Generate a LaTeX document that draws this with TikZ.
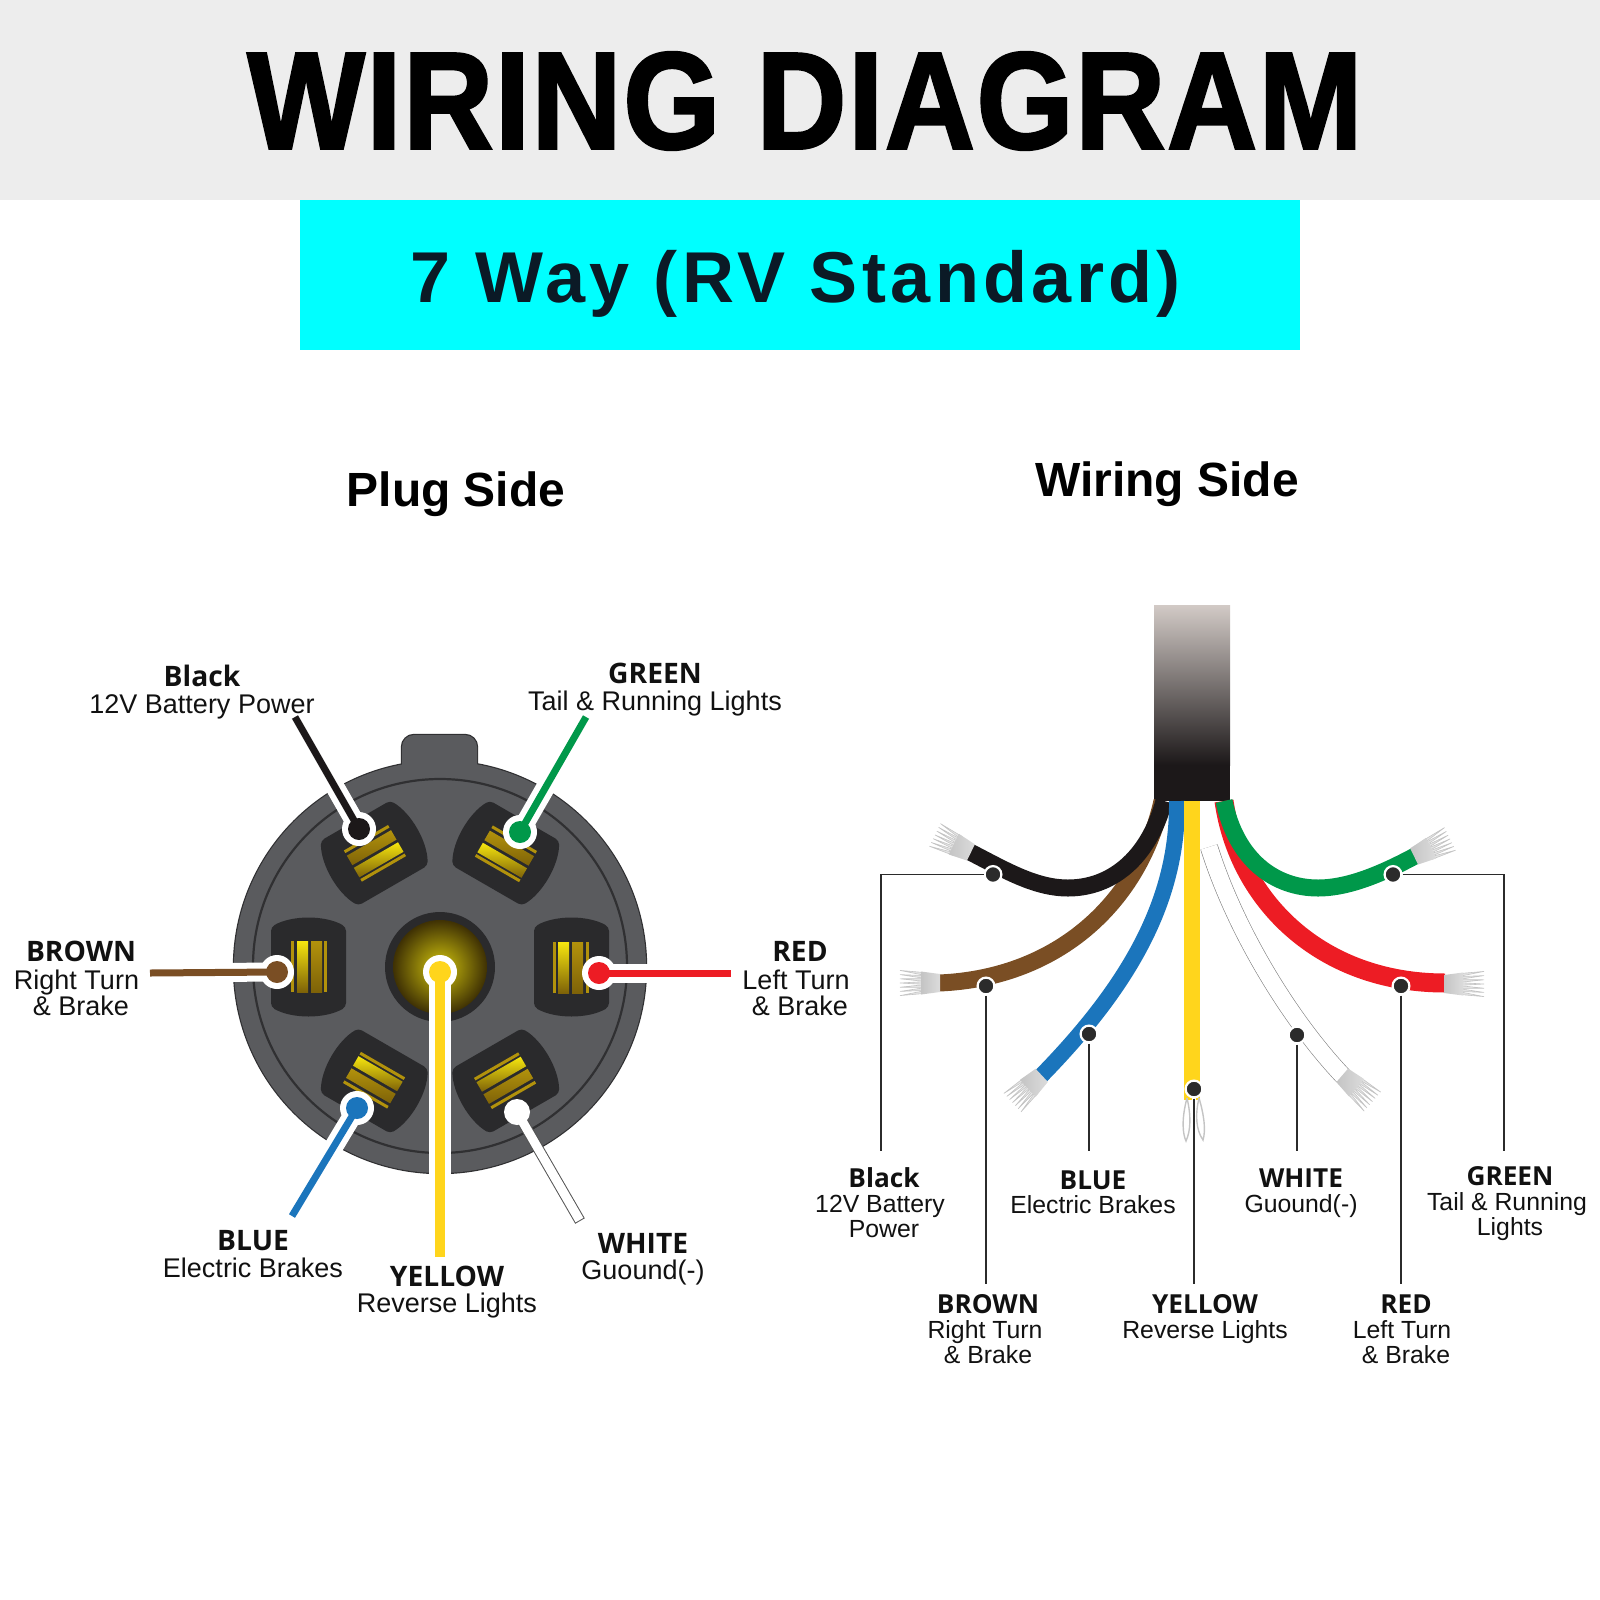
\documentclass[tikz,border=0pt]{standalone}
\usepackage{fontspec}
\setmainfont{Liberation Sans}
\newfontfamily\headfont{Open Sans}
\newfontfamily\heavyfont[LetterSpace=1.5,BoldFeatures={FakeBold=2,FakeStretch=0.9}]{Liberation Sans}
\newfontfamily\bannerfont[LetterSpace=6.1]{Liberation Sans}

\definecolor{headerGray}{HTML}{EDEDED}
\definecolor{bannerCyan}{HTML}{00FFFF}
\definecolor{bannerInk}{HTML}{0B1A26}
\definecolor{labelInk}{HTML}{111111}
\definecolor{plugBody}{HTML}{5A5B5E}
\definecolor{plugEdge}{HTML}{303032}
\definecolor{socketDark}{HTML}{2A2A2C}
\definecolor{brassHi}{HTML}{F6E60F}
\definecolor{brassMid}{HTML}{B2920C}
\definecolor{brassLo}{HTML}{7E6208}
\definecolor{wireBlack}{HTML}{1C1819}
\definecolor{wireGreen}{HTML}{00984A}
\definecolor{wireBrown}{HTML}{7A4E24}
\definecolor{wireRed}{HTML}{ED1C24}
\definecolor{wireYellow}{HTML}{FFD51C}
\definecolor{wireBlue}{HTML}{1B75BC}
\definecolor{strandGray}{HTML}{C4C4C4}
\definecolor{leadInk}{HTML}{2B2B2B}
\definecolor{cableTop}{HTML}{D2CAC6}

\tikzset{
  caption/.style={inner sep=0pt, text depth=0pt, text height=17pt, font=\bfseries\fontsize{24}{24}\selectfont, text=black},
  lbl/.style={inner sep=0pt, text depth=0pt, text=labelInk},
  plughead/.style={lbl, text height=10.2pt, font=\headfont\bfseries\fontsize{14.1}{16}\selectfont},
  plugtext/.style={lbl, text height=9.6pt, font=\fontsize{13.5}{16}\selectfont},
  wirehead/.style={lbl, text height=9.5pt, font=\headfont\bfseries\fontsize{13.1}{16}\selectfont},
  wiretext/.style={lbl, text height=8.9pt, font=\fontsize{12.4}{16}\selectfont},
  pinring/.style={circle, fill=white, minimum size=17pt, inner sep=0pt},
  pindot/.style={circle, fill=#1, minimum size=11pt, inner sep=0pt},
  plugwire/.style={draw=white, line width=3pt, double=#1, double distance=3.5pt},
  cord/.style={draw=#1, line width=8.5pt, line cap=butt},
  tap/.style={circle, fill=leadInk, draw=white, line width=1.1pt, minimum size=8.4pt, inner sep=0pt},
  lead/.style={draw=leadInk, line width=0.9pt},
  tuft/.pic={
    \foreach \k in {-3,...,3} {
      \filldraw[fill=strandGray!45, draw=strandGray, line width=0.3pt] (14,\k*3-1.4) -- (39,\k*4.2) -- (14,\k*3+1.4) -- cycle;
    }
    \shade[left color=strandGray, right color=strandGray!60] (-1,-9) -- (18,-11.5) -- (18,11.5) -- (-1,9) -- cycle;
  },
}

\begin{document}
\begin{tikzpicture}[x=0.5pt, y=-0.5pt]
  \useasboundingbox (0,0) rectangle (1600,1600);

  \fill[headerGray] (0,0) rectangle (1600,200);
  \fill[bannerCyan] (300,200) rectangle (1300,350);
  \node[inner sep=0pt, font=\heavyfont\bfseries\fontsize{69}{69}\selectfont, text=black] (titleText) at (805,101) {WIRING DIAGRAM};
  \node[inner sep=0pt, text depth=0pt, text height=26pt, font=\bannerfont\bfseries\fontsize{36}{36}\selectfont, text=bannerInk] (bannerText) at (796,276.5) {7 Way (RV Standard)};
  \node[caption] (plugCaption) at (456,489) {Plug Side};
  \node[caption] (wiringCaption) at (1167,479) {Wiring Side};

  \draw[plugEdge, line width=1.2pt] (440,967) circle (206);
  \draw[plugEdge, line width=1.2pt, rounded corners=6pt] (402,790) -- (402,735) -- (477,735) -- (477,790);
  \fill[plugBody] (440,967) circle (206);
  \fill[plugBody, rounded corners=6pt] (402,790) -- (402,735) -- (477,735) -- (477,790) -- cycle;
  \draw[plugEdge, line width=1.1pt] (440,966) circle (187);

  \foreach \ang/\barA/\barB in {0/brassHi/brassMid, 60/brassHi/brassMid, 120/brassHi/brassMid, 180/brassMid/brassHi, 240/brassHi/brassMid, 300/brassHi/brassMid} {
    \begin{scope}[shift={(440,967)}, rotate=\ang]
      \fill[socketDark, rounded corners=2pt] (94,-40) .. controls (115,-52) and (148,-52) .. (169,-40) -- (169,40) .. controls (148,52) and (115,52) .. (94,40) -- cycle;
      \fill[brassMid] (113,-25) rectangle (116,26);
      \fill[brassMid] (146,-25) rectangle (149,26);
      \shade[top color=\barA, bottom color=brassLo] (118,-25) rectangle (129,26);
      \shade[top color=\barB, bottom color=brassLo] (132,-25) rectangle (143,26);
    \end{scope}
  }

  \fill[socketDark] (440,967) circle (55);
  \shade[inner color=brassHi!85!black, outer color=brassLo!50!black] (440,967) circle (47);

  \node[pinring] (pinBlack) at (359,829) {};
  \node[pinring] (pinGreen) at (520,832) {};
  \node[pinring] (pinBrown) at (277,972) {};
  \node[pinring] (pinRed) at (599,973) {};
  \node[pinring] (pinYellow) at (440,972) {};
  \node[pinring] (pinBlue) at (357,1108) {};
  \coordinate (pinWhite) at (517,1112);
  \coordinate (endBlack) at (295,717);
  \coordinate (endGreen) at (586,717);
  \coordinate (endBrown) at (150,973);
  \coordinate (endRed) at (731,973);
  \coordinate (endYellow) at (440,1257);
  \coordinate (endBlue) at (292,1216);
  \coordinate (endWhite) at (580,1221);

  \draw[plugwire=wireBlack] (pinBlack.center) -- (endBlack);
  \draw[plugwire=wireGreen] (pinGreen.center) -- (endGreen);
  \draw[plugwire=wireBrown] (pinBrown.center) -- (endBrown);
  \draw[plugwire=wireRed] (pinRed.center) -- (endRed);
  \draw[plugwire=wireBlue] (pinBlue.center) -- (endBlue);
  \draw[plugwire=wireYellow, double distance=4.75pt] (pinYellow.center) -- (endYellow);
  \draw[draw=leadInk!80, line width=5.5pt] (pinWhite) -- (endWhite);
  \draw[draw=white, line width=4.5pt, shorten >=0.5pt] (pinWhite) -- (endWhite);
  \node[circle, fill=white, minimum size=13pt, inner sep=0pt] (dotWhite) at (pinWhite) {};

  \node[pindot=wireBlack] (dotBlack) at (pinBlack) {};
  \node[pindot=wireGreen] (dotGreen) at (pinGreen) {};
  \node[pindot=wireBrown] (dotBrown) at (pinBrown) {};
  \node[pindot=wireRed] (dotRed) at (pinRed) {};
  \node[pindot=wireYellow] (dotYellow) at (pinYellow) {};
  \node[pindot=wireBlue] (dotBlue) at (pinBlue) {};

  \node[plughead] (plugBlackHead) at (202,676.5) {Black};
  \node[plugtext] (plugBlackText) at (202,704) {12V Battery Power};
  \node[plughead] (plugGreenHead) at (655,673.5) {GREEN};
  \node[plugtext] (plugGreenText) at (655,701) {Tail \& Running Lights};
  \node[plughead] (plugBrownHead) at (81,951) {BROWN};
  \node[plugtext] (plugBrownText) at (76.5,980) {Right Turn};
  \node[plugtext] (plugBrownMore) at (81,1006) {\& Brake};
  \node[plughead] (plugRedHead) at (800,951) {RED};
  \node[plugtext] (plugRedText) at (796,980) {Left Turn};
  \node[plugtext] (plugRedMore) at (800,1006) {\& Brake};
  \node[plughead] (plugBlueHead) at (253,1240) {BLUE};
  \node[plugtext] (plugBlueText) at (253,1268) {Electric Brakes};
  \node[plughead] (plugYellowHead) at (447,1276) {YELLOW};
  \node[plugtext] (plugYellowText) at (447,1303) {Reverse Lights};
  \node[plughead] (plugWhiteHead) at (643,1243) {WHITE};
  \node[plugtext] (plugWhiteText) at (643,1270) {Guound(-)};

  \fill[wireBlack] (1154,605) rectangle (1230,801);
  \shade[top color=cableTop, bottom color=wireBlack] (1154,605) rectangle (1230,765);

  \draw[draw=leadInk!60, line width=9pt] (1209,847) .. controls (1235,930) and (1290,1020) .. (1343,1076);
  \draw[draw=white, line width=8.4pt] (1209,847) .. controls (1235,930) and (1290,1020) .. (1343,1076);
  \draw[cord=wireBrown] (1162,801) .. controls (1140,900) and (1060,978) .. (939,983);
  \draw[cord=wireBlack] (1164,801) .. controls (1148,860) and (1110,888) .. (1068,888) .. controls (1035,888) and (1005,870) .. (970,852);
  \draw[cord=wireBlue, line width=8pt] (1177,801) .. controls (1178,900) and (1130,985) .. (1041,1076);
  \draw[cord=wireYellow, line width=8pt] (1192,801) -- (1192,1100);
  \draw[cord=wireRed, line width=9.5pt] (1224,801) .. controls (1238,900) and (1320,983) .. (1445,983);
  \draw[cord=wireGreen] (1224,801) .. controls (1236,860) and (1275,888) .. (1318,888) .. controls (1350,888) and (1385,872) .. (1415,856);

  \pic[rotate=154] at (970,852) {tuft};
  \pic[rotate=26] at (1415,856) {tuft};
  \pic[rotate=180] at (939,983) {tuft};
  \pic at (1445,984) {tuft};
  \pic[rotate=223] at (1041,1076) {tuft};
  \pic[rotate=-41] at (1343,1076) {tuft};
  \draw[strandGray, line width=0.7pt] (1187,1098) .. controls (1181,1120) and (1183,1135) .. (1186,1141) .. controls (1191,1130) and (1191,1115) .. (1187,1098);
  \draw[strandGray, line width=0.7pt] (1199,1098) .. controls (1195,1115) and (1196,1130) .. (1203,1140) .. controls (1206,1130) and (1204,1115) .. (1199,1098);
  \draw[white, line width=2.2pt] (1194,1089) -- (1194,1104);

  \node[tap] (tapBlack) at (993,874.5) {};
  \node[tap] (tapGreen) at (1393,874.5) {};
  \node[tap] (tapBrown) at (986,986) {};
  \node[tap] (tapBlue) at (1089,1034) {};
  \node[tap] (tapYellow) at (1194,1089) {};
  \node[tap] (tapWhite) at (1297,1035) {};
  \node[tap] (tapRed) at (1401,986) {};
  \coordinate (leadBlack) at (881,1151);
  \coordinate (leadGreen) at (1504,1151);
  \coordinate (leadBrown) at (986,1284);
  \coordinate (leadBlue) at (1089,1151);
  \coordinate (leadYellow) at (1194,1284);
  \coordinate (leadWhite) at (1297,1151);
  \coordinate (leadRed) at (1401,1284);

  \draw[lead] (tapBlack.west) -| (leadBlack);
  \draw[lead] (tapGreen.east) -| (leadGreen);
  \draw[lead] (tapBrown.south) -- (leadBrown);
  \draw[lead] (tapBlue.south) -- (leadBlue);
  \draw[lead] (tapYellow.south) -- (leadYellow);
  \draw[lead] (tapWhite.south) -- (leadWhite);
  \draw[lead] (tapRed.south) -- (leadRed);

  \node[wirehead] (sideBlackHead) at (884,1178) {Black};
  \node[wiretext] (sideBlackText) at (880,1204) {12V Battery};
  \node[wiretext] (sideBlackMore) at (884,1229) {Power};
  \node[wirehead] (sideBlueHead) at (1093,1180) {BLUE};
  \node[wiretext] (sideBlueText) at (1093,1205) {Electric Brakes};
  \node[wirehead] (sideWhiteHead) at (1301,1178) {WHITE};
  \node[wiretext] (sideWhiteText) at (1301,1204) {Guound(-)};
  \node[wirehead] (sideGreenHead) at (1510,1176) {GREEN};
  \node[wiretext] (sideGreenText) at (1507,1202) {Tail \& Running};
  \node[wiretext] (sideGreenMore) at (1510,1227) {Lights};
  \node[wirehead] (sideBrownHead) at (988,1304) {BROWN};
  \node[wiretext] (sideBrownText) at (985,1330) {Right Turn};
  \node[wiretext] (sideBrownMore) at (988,1355) {\& Brake};
  \node[wirehead] (sideYellowHead) at (1205,1304) {YELLOW};
  \node[wiretext] (sideYellowText) at (1205,1330) {Reverse Lights};
  \node[wirehead] (sideRedHead) at (1406,1304) {RED};
  \node[wiretext] (sideRedText) at (1402,1330) {Left Turn};
  \node[wiretext] (sideRedMore) at (1406,1355) {\& Brake};
\end{tikzpicture}
\end{document}
